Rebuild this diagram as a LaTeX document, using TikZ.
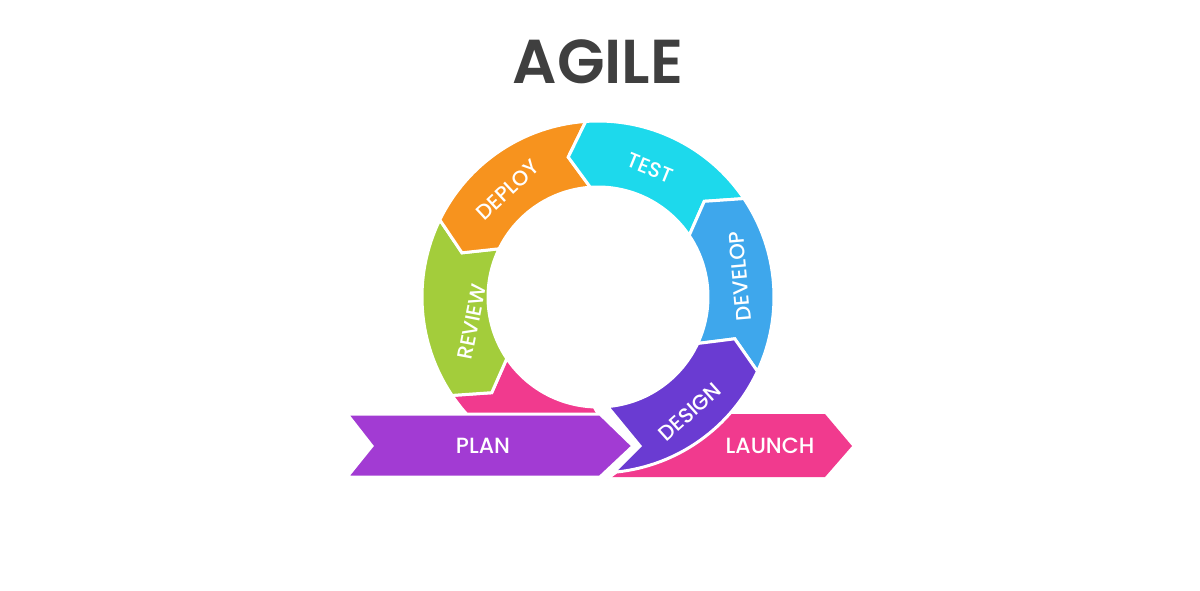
\documentclass[tikz,border=0pt]{standalone}
\usepackage{fontspec}
\setmainfont{Poppins}[UprightFont=* Medium,BoldFont=* SemiBold]
\definecolor{cplan}{HTML}{A23BD3}
\definecolor{cdesign}{HTML}{6A3BD2}
\definecolor{cdevelop}{HTML}{3EA7EC}
\definecolor{ctest}{HTML}{1DD9EC}
\definecolor{cdeploy}{HTML}{F7931E}
\definecolor{creview}{HTML}{A3CD3B}
\definecolor{cpink}{HTML}{F13A8E}
\definecolor{ctitle}{HTML}{3F3F3F}
\newcommand{\ringseg}[3]{%
  \fill[#3,draw=white,line width=3pt,line join=miter] (#1:176) arc[start angle=#1,end angle=#2,radius=176]
   -- ({#2+8}:143) -- (#2:110) arc[start angle=#2,end angle=#1,radius=110] -- ({#1+8}:143) -- cycle;}
\begin{document}
\begin{tikzpicture}[x=1pt,y=1pt,
  lbl/.style={text=white,font=\fontsize{21}{21}\selectfont},
  barlbl/.style={text=white,font=\fontsize{22}{22}\selectfont}]
\useasboundingbox (-598,-293) rectangle (602,297);
\node[text=ctitle,font=\fontsize{62}{62}\selectfont\bfseries] (title) at (0,235) {AGILE};
\ringseg{214}{268}{cpink}
\ringseg{154}{214}{creview}
\ringseg{94}{154}{cdeploy}
\ringseg{34}{94}{ctest}
\ringseg{-25}{34}{cdevelop}
\fill[cplan,draw=white,line width=3pt] (-251,-117) -- (2,-117) -- (35,-149) -- (2,-180) -- (-251,-180) -- (-226,-149) -- cycle;
\fill[cpink] (50,-117) -- (227,-117) -- (254,-149) -- (227,-180) -- (14,-180) -- (46,-149) -- cycle;
\fill[cdesign,draw=white,line width=3pt,line join=miter] (10,-181) -- (-84:176) arc[start angle=-84,end angle=-25,radius=176]
  -- (-17:143) -- (-25:110) arc[start angle=-25,end angle=-85,radius=110] -- (42,-149) -- cycle;
\node[barlbl] (plan) at (-115,-149) {PLAN};
\node[barlbl] (launch) at (172,-149) {LAUNCH};
\node[lbl,rotate=-22] (test) at (52,129) {TEST};
\node[lbl,rotate=43] (deploy) at (-90,107) {DEPLOY};
\node[lbl,rotate=79] (review) at (-126,-25) {REVIEW};
\node[lbl,rotate=95] (develop) at (142,21) {DEVELOP};
\node[lbl,rotate=42] (design) at (92,-115) {DESIGN};
\end{tikzpicture}
\end{document}
